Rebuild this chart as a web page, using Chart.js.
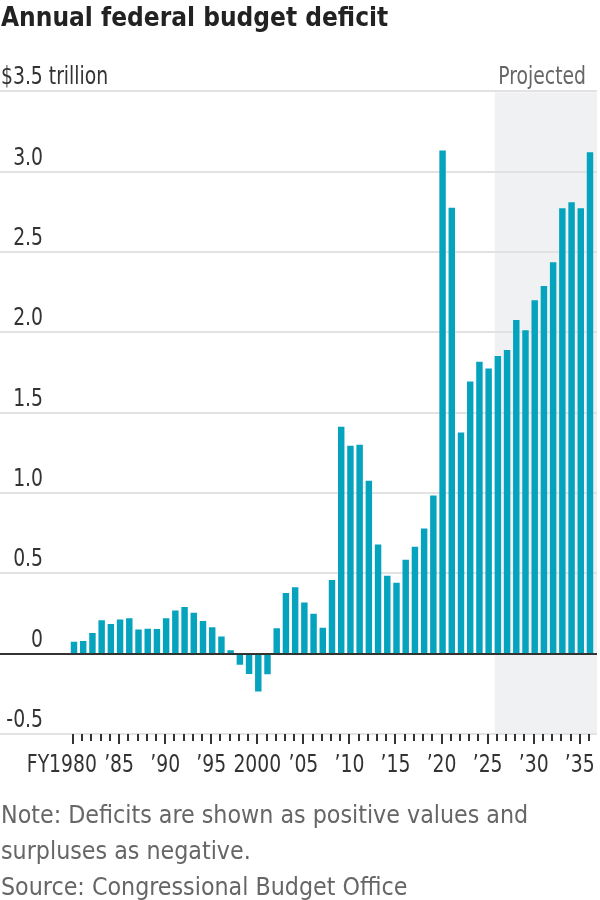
<!DOCTYPE html>
<html>
<head>
<meta charset="utf-8">
<script src="https://cdn.jsdelivr.net/npm/chart.js@4/dist/chart.umd.min.js"></script>
<style>
  html, body { margin: 0; padding: 0; background: #fff; }
  #wrap { position: relative; width: 600px; height: 900px; overflow: hidden; }
  #chart { position: absolute; left: 0; top: 0; }
  .title { position: absolute; left: 1px; top: 1px; font: bold 27px "DejaVu Sans Condensed", sans-serif; color: #222;
           transform: scaleX(0.963); transform-origin: 0 0; white-space: nowrap; }
  .note { position: absolute; left: 1px; top: 797px; font: 24px "DejaVu Sans Condensed", sans-serif; color: #666; line-height: 36px;
          transform: scaleX(1.03); transform-origin: 0 0; white-space: nowrap; }
</style>
</head>
<body>
<div id="wrap">
  <canvas id="chart" width="600" height="900"></canvas>
  <div class="title">Annual federal budget deficit</div>
  <div class="note">Note: Deficits are shown as positive values and<br>surpluses as negative.<br>Source: Congressional Budget Office</div>
</div>
<script>
// fiscal years, 2026 onward projected
const years = [
  "1980","1981","1982","1983","1984","1985","1986","1987","1988","1989",
  "1990","1991","1992","1993","1994","1995","1996","1997","1998","1999",
  "2000","2001","2002","2003","2004","2005","2006","2007","2008","2009",
  "2010","2011","2012","2013","2014","2015","2016","2017","2018","2019",
  "2020","2021","2022","2023","2024","2025","2026","2027","2028","2029",
  "2030","2031","2032","2033","2034","2035","2036"
];

// deficit, trillions of dollars (surplus negative)
const deficit = [
  0.074, 0.079, 0.128, 0.208, 0.185, 0.212, 0.221, 0.150, 0.155, 0.153,
  0.221, 0.269, 0.290, 0.255, 0.203, 0.164, 0.107, 0.022, -0.069, -0.126,
  -0.236, -0.128, 0.158, 0.378, 0.413, 0.318, 0.248, 0.161, 0.459, 1.413,
  1.294, 1.300, 1.077, 0.680, 0.485, 0.442, 0.585, 0.665, 0.779, 0.984,
  3.132, 2.775, 1.376, 1.694, 1.817, 1.775, 1.853, 1.890, 2.077, 2.014,
  2.200, 2.288, 2.437, 2.773, 2.810, 2.773, 3.122
];

const yTicks = [3.5, 3.0, 2.5, 2.0, 1.5, 1.0, 0.5, 0, -0.5];
const yTickLabels = ["$3.5 trillion", "3.0", "2.5", "2.0", "1.5", "1.0", "0.5", "0", "-0.5"];

const xLabelYears = ["1980","1985","1990","1995","2000","2005","2010","2015","2020","2025","2030","2035"];
const xLabels = ["FY1980","\u201985","\u201990","\u201995","2000","\u201905","\u201910","\u201915","\u201920","\u201925","\u201930","\u201935"];

const firstProjected = "2026";

const FONT = '24px "DejaVu Sans Condensed", sans-serif';
const SQUEEZE = 0.87;
const RIGHT_EDGE = 597;

// narrow text like the original's condensed face
function drawText(ctx, text, x, y, align) {
  ctx.save();
  ctx.translate(x, y);
  ctx.scale(SQUEEZE, 1);
  ctx.textAlign = align;
  ctx.fillText(text, 0, 0);
  ctx.restore();
}

const decor = {
  id: "decor",
  beforeDatasetsDraw(chart) {
    const ctx = chart.ctx;
    const x = chart.scales.x, y = chart.scales.y;
    const top = y.getPixelForValue(3.5), bottom = y.getPixelForValue(-0.5);

    // projected shading
    const pi = years.indexOf(firstProjected);
    const sx = x.getPixelForValue(pi - 0.5) + 1.5;
    ctx.save();
    ctx.fillStyle = "#f0f1f3";
    ctx.fillRect(sx, top + 1, RIGHT_EDGE - sx, bottom - top - 1);

    // gridlines
    ctx.strokeStyle = "#e2e2e2";
    ctx.lineWidth = 2;
    yTicks.forEach(v => {
      if (v === 0) return;
      const py = Math.round(y.getPixelForValue(v));
      ctx.beginPath();
      ctx.moveTo(0, py);
      ctx.lineTo(RIGHT_EDGE, py);
      ctx.stroke();
    });

    // y labels
    ctx.fillStyle = "#333";
    ctx.font = FONT;
    ctx.textBaseline = "alphabetic";
    yTicks.forEach((v, i) => {
      const py = y.getPixelForValue(v) - 7;
      if (i === 0) drawText(ctx, yTickLabels[i], 1, py, "left");
      else drawText(ctx, yTickLabels[i], 43, py, "right");
    });

    ctx.fillStyle = "#666";
    drawText(ctx, "Projected", 586, y.getPixelForValue(3.5) - 7, "right");
    ctx.restore();
  },
  afterDatasetsDraw(chart) {
    const ctx = chart.ctx;
    const x = chart.scales.x, y = chart.scales.y;
    const zero = Math.round(y.getPixelForValue(0));
    const base = Math.round(y.getPixelForValue(-0.5));
    ctx.save();
    ctx.strokeStyle = "#333";
    ctx.lineWidth = 2;
    ctx.beginPath();
    ctx.moveTo(0, zero);
    ctx.lineTo(RIGHT_EDGE, zero);
    ctx.stroke();

    // tick marks
    years.forEach((yr, i) => {
      const px = Math.round(x.getPixelForValue(i)) - 1;
      const major = xLabelYears.includes(yr);
      ctx.beginPath();
      ctx.moveTo(px, base);
      ctx.lineTo(px, base + (major ? 10 : 7));
      ctx.stroke();
    });

    // tick labels
    ctx.fillStyle = "#333";
    ctx.font = FONT;
    ctx.textBaseline = "alphabetic";
    xLabelYears.forEach((yr, i) => {
      const px = x.getPixelForValue(years.indexOf(yr)) - 1;
      const lab = xLabels[i];
      if (lab.startsWith("FY")) {
        const w = ctx.measureText(yr).width * SQUEEZE;
        drawText(ctx, yr, px, 772, "center");
        drawText(ctx, "FY", px - w / 2, 772, "right");
      } else {
        drawText(ctx, lab, px, 772, "center");
      }
    });
    ctx.restore();
  }
};

new Chart(document.getElementById("chart"), {
  type: "bar",
  data: {
    labels: years,
    datasets: [{
      data: deficit,
      backgroundColor: "#05a3bd",
      borderWidth: 0,
      barPercentage: 0.7,
      categoryPercentage: 1
    }]
  },
  options: {
    responsive: false,
    animation: false,
    devicePixelRatio: 1,
    layout: { padding: { left: 69.4, right: 5.4, top: 91.4, bottom: 166 } },
    plugins: { legend: { display: false }, tooltip: { enabled: false } },
    scales: {
      x: { display: false, offset: true },
      y: { display: false, min: -0.5, max: 3.5 }
    }
  },
  plugins: [decor]
});
</script>
</body>
</html>
